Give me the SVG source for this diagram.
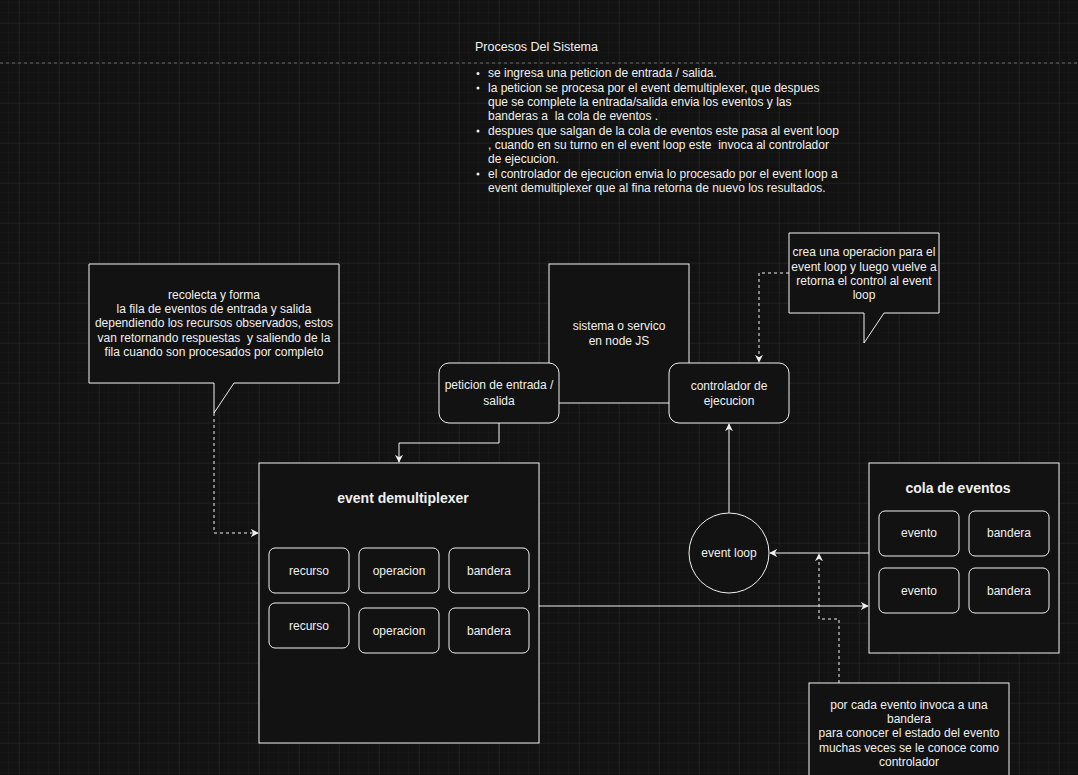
<svg xmlns="http://www.w3.org/2000/svg" width="1078" height="775" viewBox="0 0 1078 775">
<defs>
<pattern id="gm" width="10" height="10" patternUnits="userSpaceOnUse" x="9" y="3"><path d="M10 0V10M0 10H10" fill="none" stroke="#1a1a1a" stroke-width="1"/></pattern>
<pattern id="gM" width="40" height="40" patternUnits="userSpaceOnUse" x="19" y="23"><path d="M0 0V40M0 0H40" fill="none" stroke="#262626" stroke-width="1"/></pattern>
<marker id="a" viewBox="0 0 10 10" refX="9" refY="5" markerWidth="8" markerHeight="8" orient="auto-start-reverse" markerUnits="userSpaceOnUse"><path d="M0 0L10 5L0 10L3 5Z" fill="#f0f0f0"/></marker>
<style>
text{font-family:"Liberation Sans",Arial,sans-serif;fill:#f0f0f0;font-size:12px}
.c{text-anchor:middle}
.b{font-weight:bold;font-size:14px}
.box{fill:#121212;stroke:#f0f0f0;stroke-width:1}
.ln{fill:none;stroke:#f0f0f0;stroke-width:1}
.d{fill:none;stroke:#f0f0f0;stroke-width:1;stroke-dasharray:3 3}
</style>
</defs>
<rect width="1078" height="775" fill="#121212"/>
<rect width="1078" height="775" fill="url(#gm)"/>
<rect width="1078" height="775" fill="url(#gM)"/>

<g id="procesos">
<text x="475" y="51" style="font-size:12.5px">Procesos Del Sistema</text>
<line x1="0" y1="63" x2="1078" y2="63" stroke="#666" stroke-dasharray="3 3"/>
<g>
<circle cx="478" cy="73.5" r="1.5" fill="#f0f0f0"/>
<circle cx="478" cy="88" r="1.5" fill="#f0f0f0"/>
<circle cx="478" cy="131" r="1.5" fill="#f0f0f0"/>
<circle cx="478" cy="174" r="1.5" fill="#f0f0f0"/>
<text x="488" y="77">se ingresa una peticion de entrada / salida.</text>
<text x="488" y="91.5">la peticion se procesa por el event demultiplexer, que despues</text>
<text x="488" y="106">que se complete la entrada/salida envia los eventos y las</text>
<text x="488" y="120" xml:space="preserve">banderas a  la cola de eventos .</text>
<text x="488" y="135">despues que salgan de la cola de eventos este pasa al event loop</text>
<text x="488" y="149" xml:space="preserve">, cuando en su turno en el event loop este  invoca al controlador</text>
<text x="488" y="163">de ejecucion.</text>
<text x="488" y="178">el controlador de ejecucion envia lo procesado por el event loop a</text>
<text x="488" y="192">event demultiplexer que al fina retorna de nuevo los resultados.</text>
</g>
</g>

<g id="callout-left">
<path class="box" d="M89 264H339V383H234L214 413V383H89Z"/>
<text class="c" x="214" y="299">recolecta y forma</text>
<text class="c" x="214" y="313">la fila de eventos de entrada y salida</text>
<text class="c" x="214" y="327">dependiendo los recursos observados, estos</text>
<text class="c" x="214" y="342" xml:space="preserve">van retornando respuestas  y saliendo de la</text>
<text class="c" x="214" y="356">fila cuando son procesados por completo</text>
</g>

<g id="sistema">
<rect class="box" x="549" y="264" width="140" height="139"/>
<text class="c" x="619" y="330">sistema o servico</text>
<text class="c" x="619" y="345">en node JS</text>
</g>

<g id="peticion">
<rect class="box" x="439" y="363" width="120" height="60" rx="10"/>
<text class="c" x="499" y="389">peticion de entrada /</text>
<text class="c" x="499" y="405">salida</text>
</g>

<g id="controlador">
<rect class="box" x="669" y="363" width="120" height="60" rx="10"/>
<text class="c" x="729" y="390">controlador de</text>
<text class="c" x="729" y="405">ejecucion</text>
</g>

<g id="callout-top">
<path class="box" d="M789 233H939V313H884L864 343V313H789Z"/>
<text class="c" x="864" y="256">crea una operacion para el</text>
<text class="c" x="864" y="271">event loop y luego vuelve a</text>
<text class="c" x="864" y="285">retorna el control al event</text>
<text class="c" x="864" y="299">loop</text>
</g>

<g id="demux">
<rect class="box" x="259" y="463" width="280" height="280"/>
<text class="c b" x="403" y="503">event demultiplexer</text>
<rect class="box" x="269" y="548" width="80" height="45" rx="6"/><text class="c" x="309" y="575">recurso</text>
<rect class="box" x="359" y="548" width="80" height="45" rx="6"/><text class="c" x="399" y="575">operacion</text>
<rect class="box" x="449" y="548" width="80" height="45" rx="6"/><text class="c" x="489" y="575">bandera</text>
<rect class="box" x="269" y="603" width="80" height="45" rx="6"/><text class="c" x="309" y="630">recurso</text>
<rect class="box" x="359" y="608" width="80" height="45" rx="6"/><text class="c" x="399" y="635">operacion</text>
<rect class="box" x="449" y="608" width="80" height="45" rx="6"/><text class="c" x="489" y="635">bandera</text>
</g>

<g id="eventloop">
<circle class="box" cx="729" cy="553" r="40"/>
<text class="c" x="729" y="557">event loop</text>
</g>

<g id="cola">
<rect class="box" x="869" y="463" width="190" height="190"/>
<text class="c b" x="958" y="493">cola de eventos</text>
<rect class="box" x="879" y="511" width="80" height="45" rx="6"/><text class="c" x="919" y="537">evento</text>
<rect class="box" x="969" y="511" width="80" height="45" rx="6"/><text class="c" x="1009" y="537">bandera</text>
<rect class="box" x="879" y="568" width="80" height="45" rx="6"/><text class="c" x="919" y="595">evento</text>
<rect class="box" x="969" y="568" width="80" height="45" rx="6"/><text class="c" x="1009" y="595">bandera</text>
</g>

<g id="callout-bottom">
<rect class="box" x="809" y="683" width="200" height="100"/>
<text class="c" x="909" y="709">por cada evento invoca a una</text>
<text class="c" x="909" y="723">bandera</text>
<text class="c" x="909" y="737">para conocer el estado del evento</text>
<text class="c" x="909" y="752">muchas veces se le conoce como</text>
<text class="c" x="909" y="766">controlador</text>
</g>

<g id="connectors">
<path class="ln" d="M499 423V443H399V462" marker-end="url(#a)"/>
<path class="ln" d="M729 513V424" marker-end="url(#a)"/>
<path class="ln" d="M869 553H770" marker-end="url(#a)"/>
<path class="ln" d="M539 606H868" marker-end="url(#a)"/>
<path class="d" d="M789 273H759V362" marker-end="url(#a)"/>
<path class="d" d="M214 413V533H258" marker-end="url(#a)"/>
<path class="d" d="M839 683V619H819V554" marker-end="url(#a)"/>
</g>
</svg>
